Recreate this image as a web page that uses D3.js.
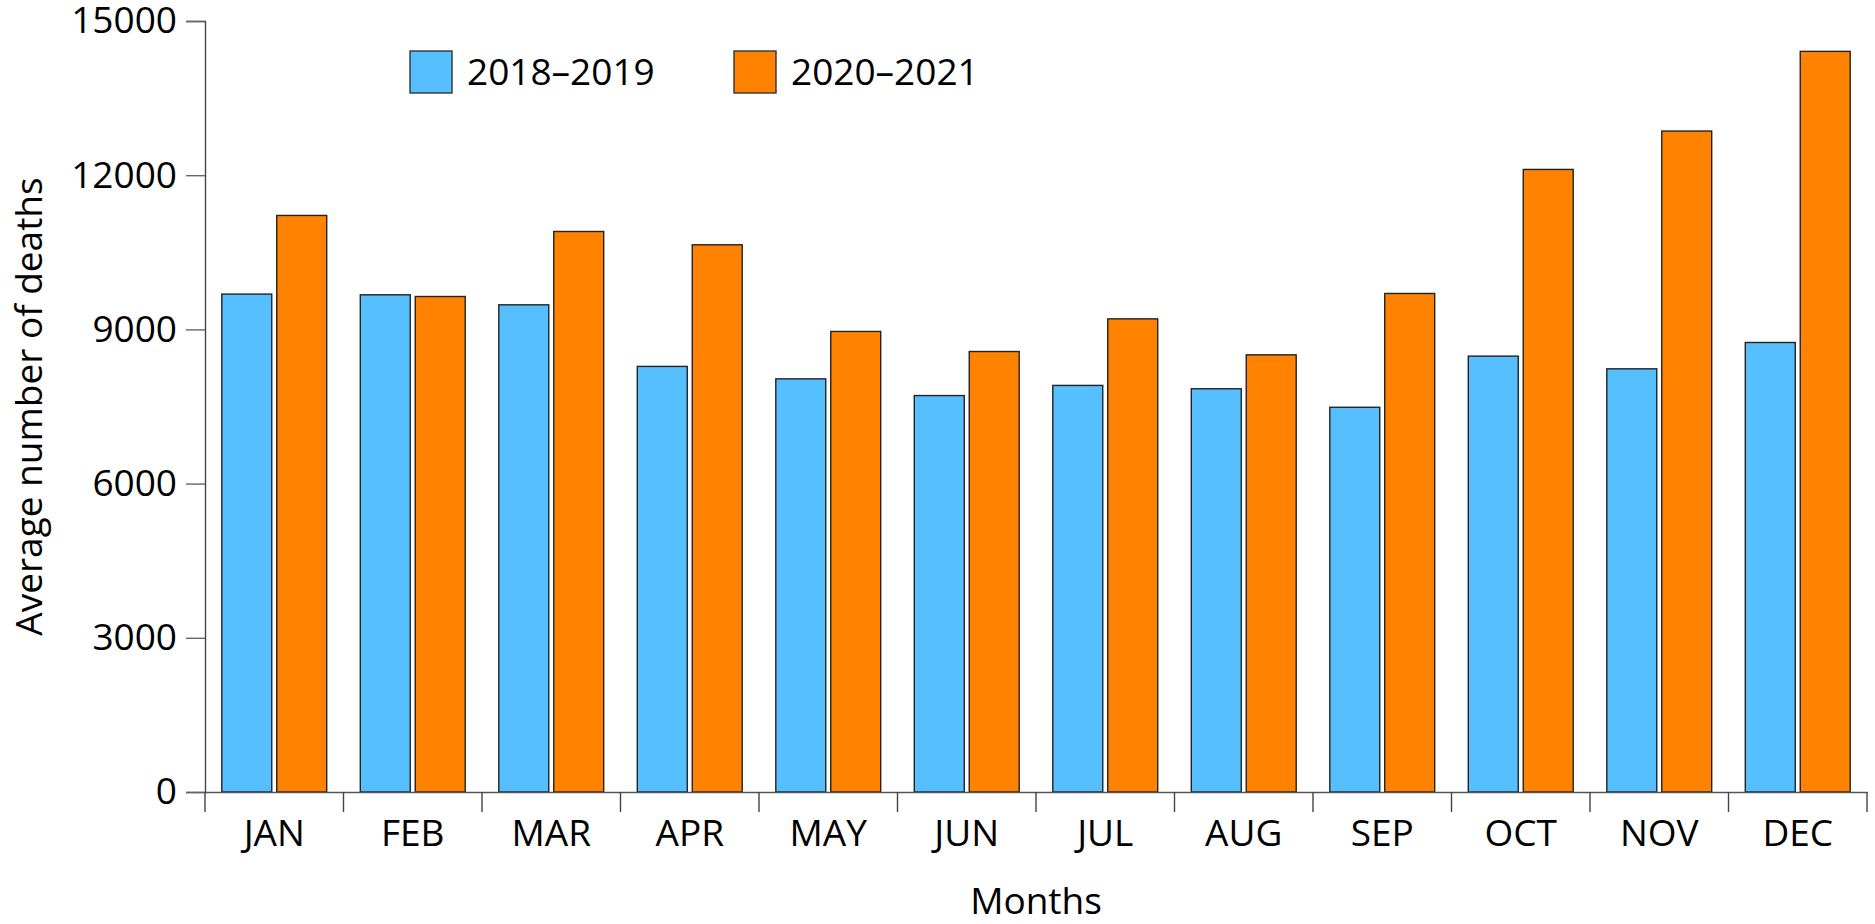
<!DOCTYPE html>
<html>
<head>
<meta charset="utf-8">
<script src="https://cdn.jsdelivr.net/npm/d3@7"></script>
<style>
  body { margin: 0; background: #fff; }
  svg { display: block; font-family: "Open Sans", "Noto Sans", sans-serif; }
</style>
</head>
<body>
<svg id="chart"></svg>
<script>
// data
const months = ["JAN", "FEB", "MAR", "APR", "MAY", "JUN", "JUL", "AUG", "SEP", "OCT", "NOV", "DEC"];
const seriesNames = ["2018\u20132019", "2020\u20132021"];
const deaths1819 = [9687, 9673, 9478, 8280, 8038, 7713, 7910, 7845, 7485, 8480, 8233, 8745];
const deaths2021 = [11217, 9640, 10905, 10646, 8960, 8570, 9205, 8505, 9699, 12112, 12859, 14409];
const yTicks = [0, 3000, 6000, 9000, 12000, 15000];

const width = 1875;
const height = 924;
const marginLeft = 205;
const marginRight = 8;
const marginTop = 21;
const marginBottom = 132;

const colors = ["#56bfff", "#ff8300"];

const rows = months.map((m, i) => ({ month: m, values: [deaths1819[i], deaths2021[i]] }));

const svg = d3.select("#chart")
    .attr("width", width)
    .attr("height", height)
    .attr("viewBox", `0 0 ${width} ${height}`);

const x0 = d3.scaleBand()
    .domain(months)
    .range([marginLeft, width - marginRight])
    .padding(0);

const x1 = d3.scaleBand()
    .domain(seriesNames)
    .range([16.8, x0.bandwidth() - 16.8])
    .paddingInner(0.0909);

const y = d3.scaleLinear()
    .domain([0, 15000])
    .range([height - marginBottom, marginTop]);

// bars
const groups = svg.append("g")
    .selectAll("g")
    .data(rows)
    .join("g")
    .attr("transform", d => `translate(${x0(d.month)},0)`);

groups.selectAll("rect")
    .data(d => d.values.map((v, i) => ({ key: seriesNames[i], value: v, i: i })))
    .join("rect")
    .attr("x", d => x1(d.key))
    .attr("y", d => y(d.value))
    .attr("width", x1.bandwidth())
    .attr("height", d => y(0) - y(d.value))
    .attr("fill", d => colors[d.i])
    .attr("stroke", "#222")
    .attr("stroke-width", 1.4);

// y axis
const yAxis = svg.append("g")
    .attr("transform", `translate(${marginLeft},0)`)
    .call(d3.axisLeft(y).tickValues(yTicks).tickSize(19).tickPadding(9).tickFormat(d3.format("d")));
yAxis.select(".domain").attr("stroke", "#444").attr("stroke-width", 1.4);
yAxis.selectAll(".tick line").attr("stroke", "#666").attr("stroke-width", 1.4);
yAxis.selectAll(".tick text").attr("font-size", 37).attr("fill", "#000").attr("font-family", "Open Sans, sans-serif");

// x axis: labels in the band centres, ticks on the band edges
const xAxis = svg.append("g")
    .attr("transform", `translate(0,${y(0)})`)
    .call(d3.axisBottom(x0).tickSize(0).tickPadding(28));
xAxis.select(".domain").attr("stroke", "#555").attr("stroke-width", 1.4);
xAxis.selectAll(".tick text").attr("font-size", 37).attr("fill", "#000").attr("font-family", "Open Sans, sans-serif");

const edges = months.map(m => x0(m)).concat([x0.range()[1]]);
xAxis.selectAll(".edge")
    .data(edges)
    .join("line")
    .attr("class", "edge")
    .attr("x1", d => d)
    .attr("x2", d => d)
    .attr("y1", 0)
    .attr("y2", 20)
    .attr("stroke", "#444")
    .attr("stroke-width", 1.4);

// axis titles
svg.append("text")
    .attr("x", (marginLeft + width - marginRight) / 2)
    .attr("y", 914)
    .attr("text-anchor", "middle")
    .attr("font-size", 37)
    .text("Months");

svg.append("text")
    .attr("transform", `translate(42,${(y(0) + y(15000)) / 2}) rotate(-90)`)
    .attr("text-anchor", "middle")
    .attr("font-size", 37)
    .text("Average number of deaths");

// legend
const legendX = [410, 734];
const legend = svg.append("g")
    .selectAll("g")
    .data(seriesNames)
    .join("g")
    .attr("transform", (d, i) => `translate(${legendX[i]},51)`);

legend.append("rect")
    .attr("width", 42)
    .attr("height", 42)
    .attr("fill", (d, i) => colors[i])
    .attr("stroke", "#333")
    .attr("stroke-width", 1.4);

legend.append("text")
    .attr("x", 57)
    .attr("y", 34)
    .attr("font-size", 37)
    .text(d => d);
</script>
</body>
</html>
